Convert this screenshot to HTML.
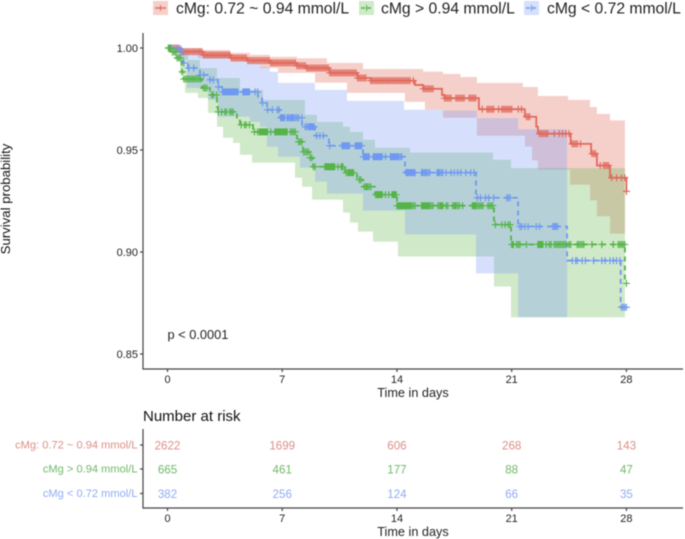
<!DOCTYPE html>
<html lang="en">
<head>
<meta charset="utf-8">
<title>Survival curves by cMg</title>
<style>
html,body{margin:0;padding:0;background:#fff;}
body{width:685px;height:539px;overflow:hidden;}
svg{display:block;font-family:"Liberation Sans",sans-serif;filter:blur(.4px);}
</style>
</head>
<body>
<svg id="chart" width="685" height="539" viewBox="0 0 685 539" xmlns="http://www.w3.org/2000/svg">
  <g id="bands"></g>
  <g id="lines"></g>
  <g id="axes"></g>
  <g>
    <g>
      <rect x="153" y="1" width="15" height="14" fill="#de6252" fill-opacity=".3"></rect>
      <line x1="155" x2="166" y1="8" y2="8" stroke="#e0695c" stroke-width="1.4"></line>
      <line x1="160.500" x2="160.500" y1="5" y2="11" stroke="#e0695c"></line>
      <text x="176" y="13.500" font-size="15.700" fill="#222">cMg: 0.72 ~ 0.94 mmol/L</text>
    </g>
    <g>
      <rect x="359" y="1" width="15" height="14" fill="#62b64b" fill-opacity=".3"></rect>
      <line x1="361" x2="372" y1="8" y2="8" stroke="#55b348" stroke-width="1.4" stroke-dasharray="4 2"></line>
      <line x1="366.500" x2="366.500" y1="5" y2="11" stroke="#55b348"></line>
      <text x="381" y="13.500" font-size="15.700" fill="#222">cMg &gt; 0.94 mmol/L</text>
    </g>
    <g>
      <rect x="524" y="1" width="15" height="14" fill="#7698f5" fill-opacity=".3"></rect>
      <line x1="526" x2="537" y1="8" y2="8" stroke="#6f98f0" stroke-width="1.4" stroke-dasharray="4 2"></line>
      <line x1="531.500" x2="531.500" y1="5" y2="11" stroke="#6f98f0"></line>
      <text x="547" y="13.500" font-size="15.700" fill="#222">cMg &lt; 0.72 mmol/L</text>
    </g>
  </g>
  <text transform="translate(10,199) rotate(-90)" text-anchor="middle" font-size="13.200" fill="#111">Survival probability</text>
  <text x="413" y="397" text-anchor="middle" font-size="12.700" fill="#222">Time in days</text>
  <text x="167.500" y="339" font-size="12.800" fill="#222">p &lt; 0.0001</text>
  <text x="143" y="421" font-size="15" fill="#111">Number at risk</text>
  <text x="413" y="536" text-anchor="middle" font-size="12.700" fill="#222">Time in days</text>
  <g id="risk"></g>
</svg>
<script>
// Axis ticks
const xTicks = [0, 7, 14, 21, 28];
const yTicks = [1.00, 0.95, 0.90, 0.85];

// Mid group (cMg 0.72-0.94): survival step curve
const midTimes = [0, .76, 2.17, 3.84, 4.88, 6.28, 7.9, 8.5, 9.9, 11.6, 12.4, 15.1, 15.6, 16.75, 16.9, 19.0, 21.8, 22.5, 22.6, 24.6, 25.85, 26.2, 27.0, 28.0];
const midSurv = [1, .9982, .9966, .9951, .9938, .9927, .9913, .9902, .9878, .9853, .984, .9819, .98, .977, .9754, .97, .9663, .9614, .958, .953, .9482, .9424, .9364, .9297];
const midCensor = [.1,.2,.3,.4,.5,.6,.7,.8,.9,1.0,1.1,1.2,1.3,1.4,1.5,1.6,1.7,1.8,1.9,2.0,2.1,2.2,2.3,2.4,2.5,2.6,2.7,2.8,2.9,3.0,3.1,3.2,3.3,3.4,3.5,3.6,3.7,3.8,3.9,4.0,4.1,4.2,4.3,4.4,4.5,4.6,4.7,4.8,4.9,5.0,5.1,5.2,5.3,5.4,5.5,5.6,5.7,5.8,5.9,6.0,6.1,6.2,6.3,6.4,6.5,6.6,6.7,6.8,6.9,7.0,7.1,7.2,7.3,7.4,7.5,7.6,7.7,7.8,7.9,8.0,8.1,8.2,8.3,8.4,8.5,8.6,8.7,8.8,8.9,9.0,9.1,9.2,9.3,9.4,9.5,9.6,9.7,9.8,9.9,10.0,10.1,10.2,10.3,10.4,10.5,10.6,10.7,10.8,10.9,11.0,11.1,11.2,11.3,11.4,11.5,11.6,11.7,11.8,11.9,12.0,12.1,12.4,12.5,12.6,12.7,12.8,12.9,13.0,13.1,13.2,13.3,13.4,13.5,13.6,13.7,13.8,13.9,14.0,14.1,14.2,14.3,14.4,14.5,14.6,14.7,14.8,15.0,15.6,15.7,15.8,15.9,16.0,16.1,16.2,16.9,17.0,17.1,17.2,17.3,17.6,17.7,17.8,17.9,18.0,18.1,18.4,18.5,18.6,18.7,18.8,19.2,19.5,19.6,19.7,19.8,19.9,20.2,20.4,20.5,20.6,20.7,20.8,20.9,21.0,21.4,21.6,21.9,22.0,22.1,22.7,22.8,22.9,23.0,23.1,23.2,23.6,23.9,24.1,24.3,24.5,24.7,24.8,24.9,25.0,25.2,25.9,26.0,26.1,26.4,26.6,26.7,26.8,26.9,27.1,27.4,27.7,27.9,28.0];
const midBandTimes = [0, 1.86, 1.98, 3.81, 5.03, 5.64, 6.25, 6.74, 7.9, 9.0, 9.73, 10.95, 11.93, 14.49, 15.59, 15.71, 16.81, 17.88, 18.88, 21.69, 21.81, 22.24, 22.6, 24.44, 24.56, 25.78, 26.2, 27.0, 27.91];
const midBandUpper = [1, .9995, .999, .9977, .9967, .9967, .9957, .9957, .995, .995, .9927, .9927, .9897, .9897, .9884, .9884, .9873, .9858, .9829, .9809, .9809, .9809, .9765, .9746, .9746, .9711, .9677, .9645, .9645];
const midBandLower = [1, .9951, .9951, .9932, .9932, .9902, .9902, .9878, .9878, .983, .983, .978, .978, .9736, .9736, .9697, .9658, .9658, .957, .957, .9517, .9449, .9403, .9403, .933, .9253, .9175, .909, .909];

// High group (cMg > 0.94): survival step curve
const highTimes = [0, .27, .58, .88, .98, 2.1, 2.59, 3.02, 3.08, 4.24, 4.42, 5.22, 7.9, 8.27, 8.69, 8.88, 10.83, 11.56, 11.93, 12.66, 14.0, 19.92, 20.96, 27.91];
const highSurv = [1, .998, .9951, .9883, .9848, .9804, .977, .9711, .9687, .9658, .9623, .9589, .954, .9491, .9462, .9418, .9389, .9354, .932, .9281, .9227, .9134, .9037, .8846];
const highCensor = [.05,.1,.15,.2,.3,.4,.5,.6,.7,.8,.9,1.0,1.1,1.2,1.3,1.4,1.5,1.6,1.7,1.8,1.9,2.0,2.2,2.3,2.4,2.7,2.8,3.0,3.1,3.3,3.5,3.6,3.8,3.9,4.0,4.5,4.7,4.8,5.0,5.3,5.5,5.6,5.65,5.7,5.75,5.8,5.85,5.9,5.95,6.0,6.05,6.1,6.3,6.55,6.6,6.65,6.7,6.75,6.8,6.85,6.9,6.95,7.0,7.05,7.1,7.15,7.2,7.25,7.3,7.5,7.6,7.7,7.8,8.0,8.1,8.2,8.3,8.4,8.5,8.6,8.7,8.8,8.9,9.0,9.6,9.65,9.7,9.75,9.8,9.85,9.9,9.95,10.0,10.05,10.1,10.15,10.2,10.4,10.6,10.65,10.7,10.9,11.0,11.05,11.1,11.15,11.2,11.25,11.3,11.35,11.7,11.8,12.0,12.1,12.15,12.2,12.3,12.4,12.7,12.75,12.8,12.85,12.9,12.95,13.0,13.05,13.1,13.3,13.5,13.7,13.75,13.8,13.85,13.9,13.95,14.0,14.05,14.1,14.15,14.2,14.25,14.3,14.35,14.4,14.45,14.5,14.55,14.6,14.65,14.7,14.75,14.8,14.85,14.9,15.0,15.1,15.5,15.55,15.6,15.65,15.7,15.75,15.8,15.85,15.9,15.95,16.0,16.1,16.2,16.5,16.6,16.65,16.7,16.75,16.8,17.0,17.1,17.4,17.5,17.55,17.6,17.7,17.8,18.0,18.6,18.65,18.7,18.75,18.8,18.85,18.95,19.05,19.15,19.25,19.55,19.65,19.75,19.85,20.0,20.4,20.6,20.8,20.9,21.0,21.05,21.1,21.3,21.4,21.5,21.9,22.6,22.65,22.7,22.75,22.8,22.85,22.9,23.1,23.3,23.4,23.6,23.7,23.8,23.9,24.0,24.1,24.2,24.3,24.5,24.6,25.0,25.1,25.2,25.3,25.4,25.9,26.5,27.2,27.5,27.6,27.7,27.8,27.9,28.0];
const highBandTimes = [0, .46, .76, 1.07, 1.25, 1.86, 1.98, 2.47, 3.02, 3.39, 4.0, 4.42, 5.16, 5.83, 7.78, 8.08, 8.21, 8.39, 8.82, 9.12, 10.71, 11.13, 11.62, 11.93, 12.54, 12.66, 14.06, 14.8, 19.86, 19.92, 20.96, 27.91];
const highBandUpper = [1, .999, .999, .999, .9941, .9941, .9902, .9902, .9853, .9853, .9853, .9795, .9795, .9746, .9746, .9746, .9746, .9672, .9672, .9638, .9614, .9589, .9589, .955, .955, .9511, .9511, .9488, .9452, .9452, .9411, .9411];
const highBandLower = [1, .9956, .9868, .978, .978, .9755, .9755, .9682, .9614, .956, .9535, .9477, .9438, .9438, .9364, .9364, .932, .932, .9257, .9257, .9193, .9144, .91, .91, .9051, .9051, .8978, .8978, .8978, .8831, .868, .868];

// Low group (cMg < 0.72): survival step curve
const lowTimes = [0, .34, .95, 1.25, 1.98, 2.59, 3.08, 3.33, 5.52, 5.77, 6.07, 6.86, 8.21, 9.0, 9.85, 11.93, 14.49, 18.82, 21.39, 24.38, 27.65, 28.0];
const lowSurv = [1, .9995, .9927, .9902, .9868, .9844, .9809, .9785, .976, .9731, .9697, .9658, .9614, .957, .9521, .9467, .9389, .9266, .9125, .8958, .8729, .8729];
const lowCensor = [.1,.3,.5,.7,.8,1.0,1.3,1.6,2.0,2.2,2.6,2.8,3.1,3.35,3.4,3.45,3.5,3.55,3.6,3.65,3.7,3.75,3.8,3.85,3.9,3.95,4.0,4.05,4.1,4.15,4.2,4.25,4.3,4.6,4.65,4.7,4.75,4.8,4.85,4.9,4.95,5.0,5.35,5.5,5.8,6.1,6.4,6.7,6.8,6.9,6.95,7.0,7.05,7.1,7.15,7.3,7.35,7.4,7.5,7.55,7.6,7.65,7.7,7.8,7.9,8.0,8.2,8.4,8.5,8.6,8.65,8.7,8.75,8.8,8.85,8.9,8.95,9.1,9.3,9.5,9.9,10.65,10.7,10.75,10.8,10.85,10.9,10.95,11.0,11.05,11.1,11.45,11.5,11.55,11.6,11.65,11.7,11.75,11.8,11.85,11.95,12.0,12.05,12.1,12.15,12.2,12.25,12.3,12.55,12.6,12.65,12.7,12.75,12.8,12.85,12.9,12.95,13.0,13.05,13.1,13.3,13.6,13.65,13.7,13.75,13.8,13.85,13.9,13.95,14.0,14.05,14.1,14.2,14.3,14.55,14.6,14.65,14.7,14.75,14.8,14.85,14.9,14.95,15.0,15.05,15.1,15.5,15.55,15.6,15.7,15.75,15.8,15.9,16.0,16.45,16.5,16.55,16.6,16.7,16.8,17.0,17.3,17.5,17.7,17.9,18.2,18.5,18.7,18.9,19.1,19.4,19.6,19.9,20.7,20.8,20.9,21.5,21.6,21.8,22.0,22.5,22.7,23.5,23.6,23.65,23.7,23.8,24.7,24.9,25.0,25.3,25.5,26.0,26.5,26.7,27.0,27.2,27.4,27.6,27.7,27.8,27.9,28.0];
const lowBandTimes = [0, .46, .76, 1.19, 1.98, 2.47, 3.08, 3.81, 5.03, 5.64, 6.07, 6.25, 6.74, 8.08, 9.0, 9.73, 10.95, 11.93, 14.43, 14.49, 16.81, 18.82, 18.88, 21.39, 24.38];
const lowBandUpper = [1, 1, .9995, .9995, .9966, .9966, .9966, .9932, .9932, .9907, .9907, .9883, .9829, .9829, .9795, .9795, .9741, .9741, .9697, .9697, .9693, .9693, .9656, .9602, .9602];
const lowBandLower = [1, .9941, .9941, .9804, .9804, .9746, .9663, .9663, .9638, .9614, .9516, .9516, .9467, .9413, .9345, .9286, .9286, .9203, .9203, .9086, .9086, .8895, .8895, .868, .868];

// Number at risk table
const riskGroups = ["cMg: 0.72 ~ 0.94 mmol/L", "cMg > 0.94 mmol/L", "cMg < 0.72 mmol/L"];
const riskMid = [2622, 1699, 606, 268, 143];
const riskHigh = [665, 461, 177, 88, 47];
const riskLow = [382, 256, 124, 66, 35];

const NS = "http://www.w3.org/2000/svg";
const X0 = 167.5, PX_PER_DAY = 16.39;
const Y1 = 48, PX_PER_UNIT = 2040;
function xScale(d) { return X0 + d * PX_PER_DAY; }
function yScale(s) { return Y1 + (1 - s) * PX_PER_UNIT; }
function make(tag, parent) {
  const el = document.createElementNS(NS, tag);
  parent.appendChild(el);
  return el;
}
function stepPoints(times, vals) {
  const pts = [[xScale(times[0]), yScale(vals[0])]];
  for (let i = 1; i < times.length; i++) {
    pts.push([xScale(times[i]), yScale(vals[i - 1])]);
    pts.push([xScale(times[i]), yScale(vals[i])]);
  }
  return pts;
}
function stepValue(times, vals, t) {
  let v = vals[0];
  for (let i = 0; i < times.length; i++) { if (times[i] <= t) v = vals[i]; }
  return v;
}
function toD(pts) { return pts.map((p, i) => (i ? "L" : "M") + p[0].toFixed(2) + " " + p[1].toFixed(2)).join(""); }

const bandsG = document.getElementById("bands");
const linesG = document.getElementById("lines");
const axesG = document.getElementById("axes");
const riskG = document.getElementById("risk");

function drawBand(times, upper, lower, color) {
  const el = make("path", bandsG);
  
  
  const top = stepPoints(times, upper);
  const bottom = stepPoints(times, lower).reverse();
  el.setAttribute("d", toD(top.concat(bottom)) + "Z");
  el.setAttribute("fill", color);
  el.setAttribute("fill-opacity", ".3");
}
function drawCurve(times, surv, censor, color, dash) {
  const line = make("path", linesG);
  
  
  line.setAttribute("d", toD(stepPoints(times, surv)));
  line.setAttribute("fill", "none");
  line.setAttribute("stroke", color);
  line.setAttribute("stroke-width", "1.8");
  if (dash) line.setAttribute("stroke-dasharray", dash);
  const marks = make("path", linesG);
  
  
  let d = "";
  censor.forEach(t => {
    const x = xScale(t), y = yScale(stepValue(times, surv, t));
    d += "M" + (x - 3.5).toFixed(2) + " " + y.toFixed(2) + "h7M" + x.toFixed(2) + " " + (y - 3.5).toFixed(2) + "v7";
  });
  marks.setAttribute("d", d);
  marks.setAttribute("fill", "none");
  marks.setAttribute("stroke", color);
  marks.setAttribute("stroke-width", "1.2");
}

drawBand(midBandTimes, midBandUpper, midBandLower, "#de6252");
drawBand(highBandTimes, highBandUpper, highBandLower, "#62b64b");
drawBand(lowBandTimes, lowBandUpper, lowBandLower, "#7698f5");
drawCurve(midTimes, midSurv, midCensor, "#e0695c", null);
drawCurve(lowTimes, lowSurv, lowCensor, "#6f98f0", "5 4");
drawCurve(highTimes, highSurv, highCensor, "#55b348", "5 4");

function axisLine(x1, y1, x2, y2, parent) {
  const l = make("line", parent);
  
  
  l.setAttribute("x1", x1); l.setAttribute("y1", y1);
  l.setAttribute("x2", x2); l.setAttribute("y2", y2);
  l.setAttribute("stroke", "#444");
  l.setAttribute("stroke-width", "1.2");
}
function label(txt, x, y, anchor, size, color, parent) {
  const t = make("text", parent);
  
  
  t.setAttribute("x", x); t.setAttribute("y", y);
  t.setAttribute("text-anchor", anchor);
  t.setAttribute("font-size", size);
  t.setAttribute("fill", color);
  t.textContent = txt;
}

// Main axes
axisLine(143, 33, 143, 369, axesG);
axisLine(142.4, 369, 683, 369, axesG);
yTicks.forEach(v => {
  const y = yScale(v);
  axisLine(140, y, 143, y, axesG);
  label(v.toFixed(2), 138, y + 4, "end", 11, "#222", axesG);
});
xTicks.forEach(v => {
  const x = xScale(v);
  axisLine(x, 369, x, 372, axesG);
  label(String(v), x, 383, "middle", 11, "#222", axesG);
});

// Risk table
const RISK_ROWS = [445, 469, 493.5];
const riskColors = ["#dc8f88", "#6fb968", "#8fabf2"];
const riskSeries = [riskMid, riskHigh, riskLow];
axisLine(143, 429, 143, 508, riskG);
axisLine(142.4, 508, 683, 508, riskG);
riskGroups.forEach((g, r) => {
  const y = RISK_ROWS[r];
  axisLine(140, y, 143, y, riskG);
  label(g, 137.5, y + 3.5, "end", 11.1, riskColors[r], riskG);
  riskSeries[r].forEach((n, i) => {
    label(String(n), xScale(xTicks[i]), y + 4.5, "middle", 11.6, riskColors[r], riskG);
  });
});
xTicks.forEach(v => {
  const x = xScale(v);
  axisLine(x, 508, x, 511, riskG);
  label(String(v), x, 522, "middle", 11, "#222", riskG);
});
</script>
</body>
</html>
